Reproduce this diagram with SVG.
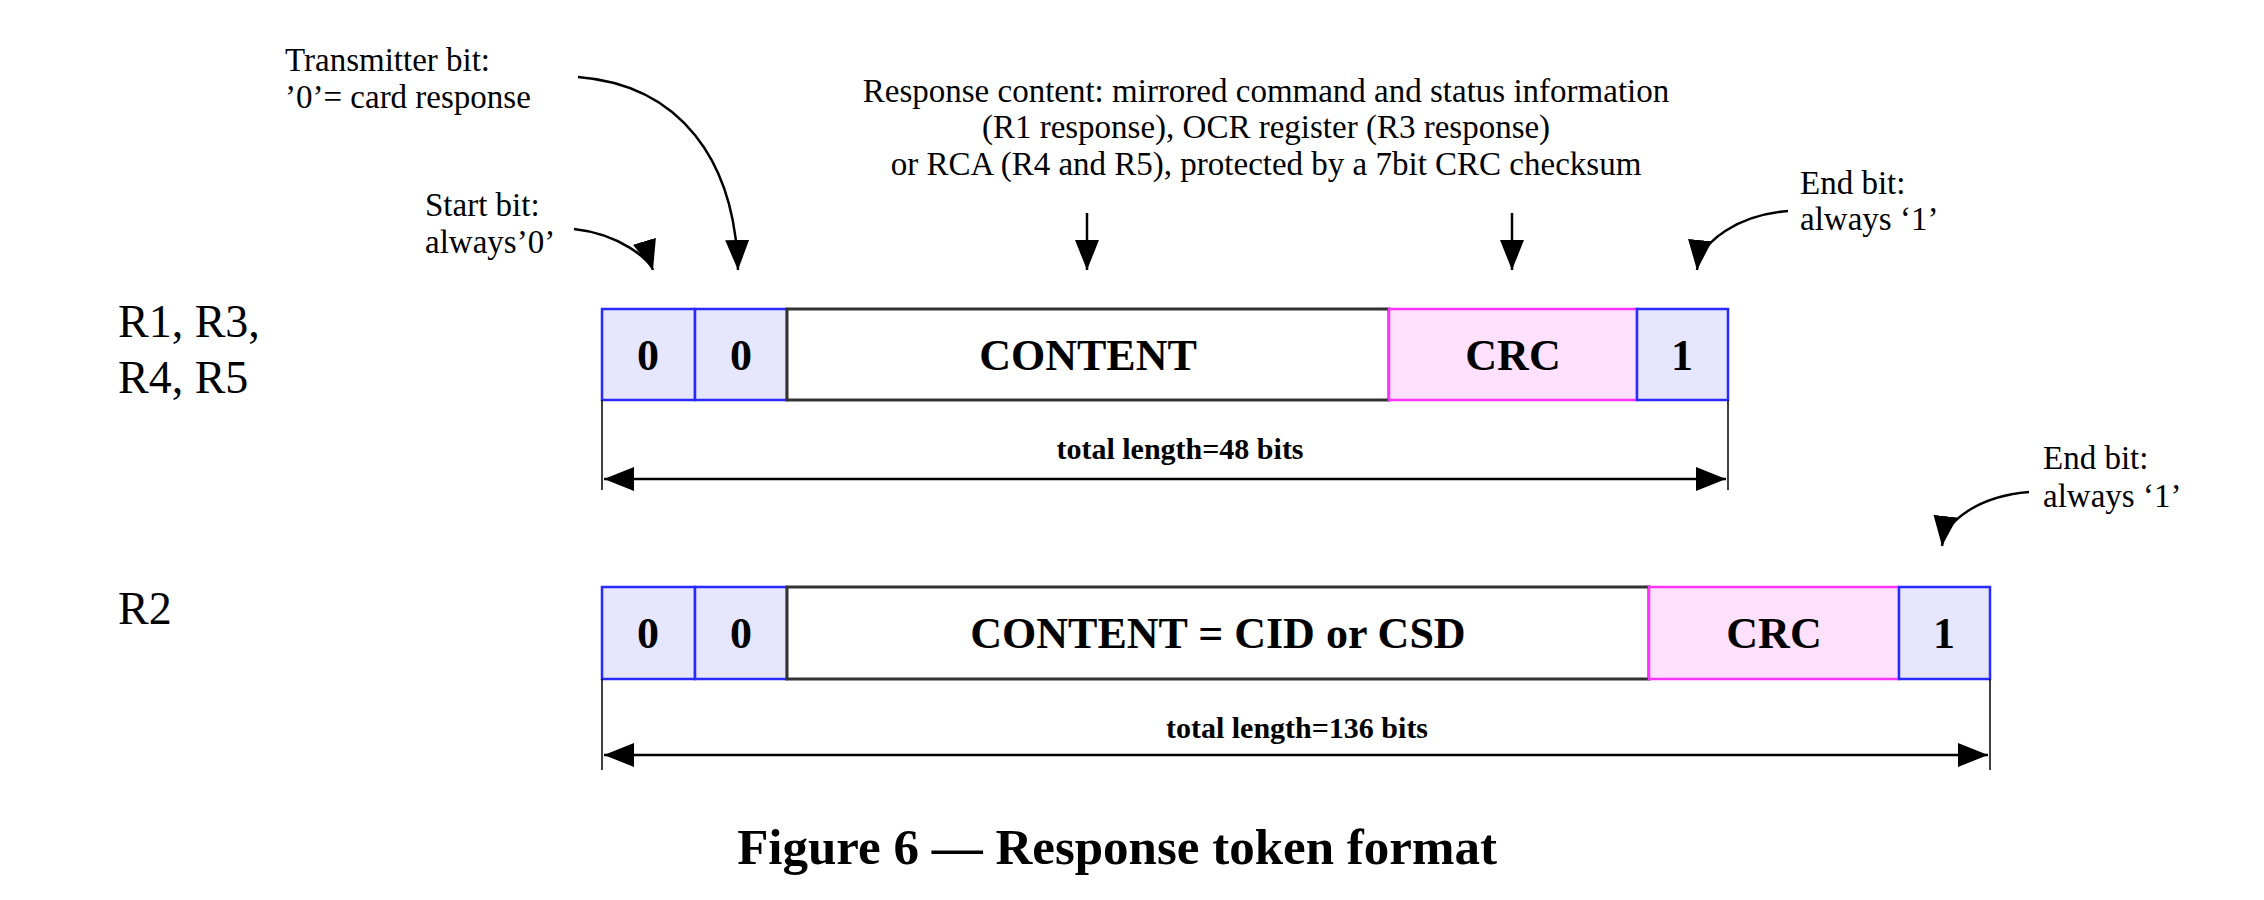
<svg xmlns="http://www.w3.org/2000/svg" width="2264" height="900" viewBox="0 0 2264 900">
<style>
text{font-family:"Liberation Serif","Times New Roman",serif;fill:#000}
.n{font-size:33px}
.r{font-size:46px}
.b{font-size:44px;font-weight:bold;text-anchor:middle}
.d{font-size:30px;font-weight:bold;text-anchor:middle}
.t{font-size:51px;font-weight:bold;text-anchor:middle}
.bit{fill:#e6e6ff;stroke:#2a2aff;stroke-width:2.5}
.crc{fill:#ffe0ff;stroke:#ff33ff;stroke-width:2.5}
.con{fill:#fff;stroke:#333;stroke-width:3}
.ln{fill:none;stroke:#000;stroke-width:2.5}
.ext{stroke:#000;stroke-width:1.5}
</style>
<defs>
<marker id="ah" viewBox="0 0 10 10" refX="10" refY="5" markerWidth="10" markerHeight="10" markerUnits="userSpaceOnUse" orient="auto" overflow="visible">
<path d="M-28,-10 L0,5 L-28,20 Z" transform="translate(10,0)"/>
</marker>
<marker id="as" viewBox="0 0 30 24" refX="30" refY="12" markerWidth="30" markerHeight="24" markerUnits="userSpaceOnUse" orient="auto-start-reverse">
<path d="M0,0 L30,12 L0,24 Z"/>
</marker>
</defs>
<g id="labels">
<text class="n" x="285" y="71">Transmitter bit:</text>
<text class="n" x="285" y="108">’0’= card response</text>
<text class="n" x="425" y="216">Start bit:</text>
<text class="n" x="425" y="253">always’0’</text>
<text class="n" x="1266" y="102" text-anchor="middle">Response content: mirrored command and status information</text>
<text class="n" x="1266" y="138" text-anchor="middle">(R1 response), OCR register (R3 response)</text>
<text class="n" x="1266" y="175" text-anchor="middle">or RCA (R4 and R5), protected by a 7bit CRC checksum</text>
<text class="n" x="1800" y="194">End bit:</text>
<text class="n" x="1800" y="230">always ‘1’</text>
<text class="n" x="2043" y="469">End bit:</text>
<text class="n" x="2043" y="507">always ‘1’</text>
<text class="r" x="118" y="337">R1, R3,</text>
<text class="r" x="118" y="393">R4, R5</text>
<text class="r" x="118" y="624">R2</text>
</g>
<g id="row1">
<rect class="bit" x="602" y="309" width="93" height="91"/>
<rect class="bit" x="695" y="309" width="92" height="91"/>
<rect class="con" x="787" y="309" width="602" height="91"/>
<rect class="crc" x="1389" y="309" width="248" height="91"/>
<rect class="bit" x="1637" y="309" width="91" height="91"/>
<text class="b" x="648" y="370">0</text>
<text class="b" x="741" y="370">0</text>
<text class="b" x="1088" y="370">CONTENT</text>
<text class="b" x="1513" y="370">CRC</text>
<text class="b" x="1682" y="370">1</text>
<text class="d" x="1180" y="459">total length=48 bits</text>
</g>
<g id="row2">
<rect class="bit" x="602" y="587" width="93" height="92"/>
<rect class="bit" x="695" y="587" width="92" height="92"/>
<rect class="con" x="787" y="587" width="862" height="92"/>
<rect class="crc" x="1649" y="587" width="250" height="92"/>
<rect class="bit" x="1899" y="587" width="91" height="92"/>
<text class="b" x="648" y="648">0</text>
<text class="b" x="741" y="648">0</text>
<text class="b" x="1218" y="648">CONTENT = CID or CSD</text>
<text class="b" x="1774" y="648">CRC</text>
<text class="b" x="1944" y="648">1</text>
<text class="d" x="1297" y="738">total length=136 bits</text>
</g>
<g id="connectors">
<path class="ln" d="M574,229 C620,234 650,260 653,270" marker-end="url(#as)"/>
<path class="ln" d="M578,77 C680,85 735,160 738,270" marker-end="url(#as)"/>
<path class="ln" d="M1087,213 L1087,270" marker-end="url(#as)"/>
<path class="ln" d="M1512,213 L1512,270" marker-end="url(#as)"/>
<path class="ln" d="M1788,211 C1740,215 1700,240 1697,270" marker-end="url(#as)"/>
<path class="ln" d="M2029,492 C1980,496 1945,520 1942,546" marker-end="url(#as)"/>
<line class="ext" x1="602" y1="400" x2="602" y2="490"/>
<line class="ext" x1="1728" y1="400" x2="1728" y2="490"/>
<path class="ln" d="M604,479 L1726,479" marker-start="url(#as)" marker-end="url(#as)"/>
<line class="ext" x1="602" y1="679" x2="602" y2="770"/>
<line class="ext" x1="1990" y1="679" x2="1990" y2="770"/>
<path class="ln" d="M604,755 L1988,755" marker-start="url(#as)" marker-end="url(#as)"/>
</g>
<text class="t" x="1117" y="864">Figure 6 — Response token format</text>
</svg>
